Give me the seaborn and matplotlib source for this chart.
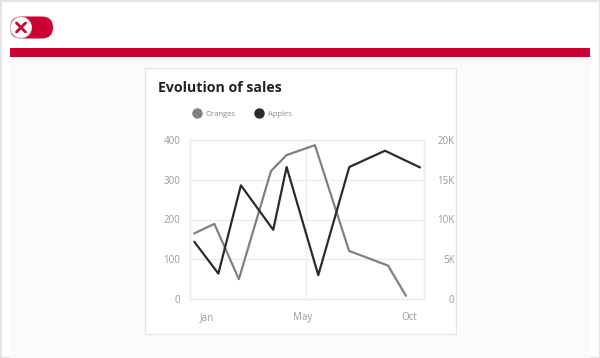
import numpy as np
import seaborn as sns
import matplotlib.pyplot as plt
from matplotlib.lines import Line2D
from matplotlib.patches import Rectangle, FancyBboxPatch, Circle

# data (x = fractional month, 1 = Jan)
months_oranges = [0.43, 1.33, 2.43, 3.87, 4.57, 5.84, 7.37, 9.12, 9.92]
oranges = [165, 189, 50, 322, 362, 387, 121, 84, 8]
months_apples = [0.43, 1.51, 2.52, 3.97, 4.57, 5.99, 7.38, 8.98, 10.55]
apples = [7200, 3200, 14300, 8700, 16600, 3000, 16600, 18650, 16550]

month_ticks = [1.0, 5.3, 10.05]
month_labels = ['Jan', 'May', 'Oct']
left_ticks = [0, 100, 200, 300, 400]
right_ticks = [0, 5000, 10000, 15000, 20000]
right_labels = ['0', '5K', '10K', '15K', '20K']

sns.set_theme(style='white')
plt.rcParams['font.family'] = ['Open Sans', 'DejaVu Sans']

RED = '#cc0033'
GRID = '#e9eef3'
TICK = '#9a9a9a'
GRAY_LINE = '#808080'
DARK_LINE = '#2b2b2b'

W, H = 600, 358
fig = plt.figure(figsize=(W / 100, H / 100), dpi=100)
fig.patch.set_facecolor('white')

# page decoration, drawn in pixel coordinates
bg = fig.add_axes([0, 0, 1, 1], zorder=-1)
bg.set_xlim(0, W)
bg.set_ylim(H, 0)
bg.axis('off')
bg.add_patch(Rectangle((0.5, 0.5), W - 1, H - 1, facecolor='white', edgecolor='#e4e4e4', lw=1.5))
bg.add_patch(Rectangle((10, 57), 580, H - 57, facecolor='#fcfbf9', edgecolor='none'))
bg.add_patch(Rectangle((10, 47.7), 580, 9, facecolor=RED, edgecolor='none'))
bg.add_patch(FancyBboxPatch((10, 16.5), 43, 22, boxstyle='round,pad=0,rounding_size=11',
                            facecolor=RED, edgecolor='none'))
bg.add_patch(Circle((21, 27.5), 10.5, facecolor='white', edgecolor='#d9d9d9', lw=0.6))
bg.plot([16.5, 25.5], [23, 32], color=RED, lw=2, solid_capstyle='round')
bg.plot([16.5, 25.5], [32, 23], color=RED, lw=2, solid_capstyle='round')
bg.add_patch(Rectangle((144.5, 67.5), 311, 266.5, facecolor='white', edgecolor='#e6e6e6', lw=1))

fig.text(158 / W, 1 - 87.5 / H, 'Evolution of sales', fontsize=10.2, fontweight='bold',
         color='#222222', va='center', ha='left')

# chart
ax = fig.add_axes([190 / W, 1 - 299 / H, 234 / W, 159 / H])
ax.set_facecolor('white')
ax2 = ax.twinx()

sns.lineplot(x=months_oranges, y=oranges, ax=ax, color=GRAY_LINE, linewidth=1.6, legend=False)
sns.lineplot(x=months_apples, y=apples, ax=ax2, color=DARK_LINE, linewidth=1.6, legend=False)

ax.set_xlim(0.238, 10.73)
ax.set_ylim(0, 400)
ax2.set_ylim(0, 20000)

ax.set_xticks(month_ticks)
ax.set_xticklabels(month_labels)
ax.set_xticks([5.44], minor=True)
ax.set_yticks(left_ticks)
ax.set_yticklabels([str(v) for v in left_ticks])
ax2.set_yticks(right_ticks)
ax2.set_yticklabels(right_labels)

ax.grid(False)
ax2.grid(False)
ax.grid(which='minor', axis='x', color=GRID, lw=1)
ax.grid(which='major', axis='y', color=GRID, lw=1)

for a in (ax, ax2):
    for s in a.spines.values():
        s.set_color(GRID)
        s.set_linewidth(1)
    a.set_xlabel('')
    a.set_ylabel('')

ax.tick_params(axis='x', which='both', length=0, pad=9.5, labelsize=7, labelcolor=TICK)
ax.tick_params(axis='y', length=0, pad=7, labelsize=7, labelcolor=TICK)
ax2.tick_params(axis='y', length=0, pad=22, labelsize=7, labelcolor=TICK)
for lab in ax2.get_yticklabels():
    lab.set_horizontalalignment('right')

handles = [
    Line2D([], [], marker='o', linestyle='none', markersize=6.5, color=GRAY_LINE, label='Oranges'),
    Line2D([], [], marker='o', linestyle='none', markersize=6.5, color=DARK_LINE, label='Apples'),
]
fig.legend(handles=handles, loc='center left', bbox_to_anchor=(189 / W, 1 - 114 / H), ncol=2,
           frameon=False, fontsize=5.5, labelcolor='#888888', handletextpad=0.7,
           columnspacing=2.5, handlelength=1.0, borderpad=0)

fig.savefig('out.png', dpi=100)
